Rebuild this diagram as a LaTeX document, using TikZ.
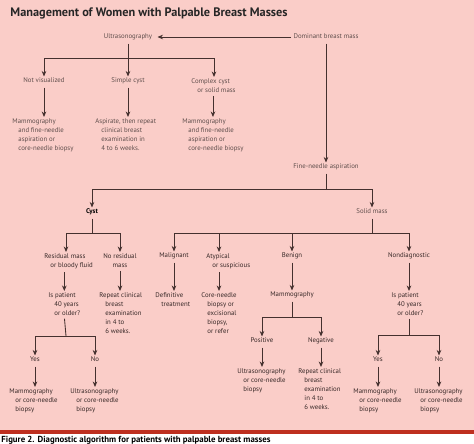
\documentclass[tikz,border=0pt]{standalone}
\usepackage{fontspec}
\setmainfont{PT Sans}
\usetikzlibrary{arrows.meta}
\definecolor{bgpink}{RGB}{250,205,200}
\definecolor{barred}{RGB}{190,48,32}
\definecolor{linec}{RGB}{68,48,46}
\definecolor{txtlight}{RGB}{95,78,76}
\definecolor{txtdark}{RGB}{55,40,39}
\newcommand{\ind}{\hspace*{6pt}}

\begin{document}
\begin{tikzpicture}[x=1pt,y=-1pt,>={Stealth[length=5.5pt,width=4.6pt]},line width=0.85pt,
    lbl/.style={inner sep=1pt,text height=4.8pt,text depth=1.4pt,font=\fontsize{6.8}{9}\selectfont,text=txtdark},
    blk/.style={inner sep=1pt,anchor=north west,align=left,font=\fontsize{6.8}{9}\selectfont,text=txtdark},
    arr/.style={->,draw=linec},
    drop/.style={->,draw=linec,shorten <=2pt},
    stem/.style={draw=linec,shorten <=2pt}]

    \fill[bgpink] (0,0) rectangle (474,430);
    \fill[barred] (0,430) rectangle (474,434);
    \useasboundingbox (0,0) rectangle (474,444);
    \clip (0,0) rectangle (474,444);

    \node[anchor=base west,inner sep=0,font=\bfseries\fontsize{12.3}{14}\selectfont,text=black!85] (title) at (10,16.5) {Management of Women with Palpable Breast Masses};
    \node[anchor=base west,inner sep=0,font=\bfseries\fontsize{8.8}{10}\selectfont,text=black] (caption) at (1,442.5) {Figure 2. Diagnostic algorithm for patients with palpable breast masses};

    % top row
    \node[lbl,text=txtlight] (us) at (128,37) {Ultrasonography};
    \node[lbl,text=txtlight] (dom) at (326,37) {Dominant breast mass};
    \node[lbl,text=txtlight] (notvis) at (44,81) {Not visualized};
    \node[lbl,text=txtlight] (simple) at (128,81) {Simple cyst};
    \node[blk,text=txtlight] (complex) at (190,77) {Complex cyst\\\ind or solid mass};
    \node[blk,text=txtlight] (mam1) at (11,117) {Mammography\\\ind and fine-needle\\\ind aspiration or\\\ind core-needle biopsy};
    \node[blk,text=txtlight] (asp) at (94,117) {Aspirate, then repeat\\\ind clinical breast\\\ind examination in\\\ind 4 to 6 weeks.};
    \node[blk,text=txtlight] (mam2) at (181,117) {Mammography\\\ind and fine-needle\\\ind aspiration or\\\ind core-needle biopsy};
    \node[lbl,text=txtlight] (fna) at (326,167) {Fine-needle aspiration};

    % cyst / solid mass
    \node[lbl,text=black,font=\bfseries\fontsize{6.8}{9}\selectfont] (cyst) at (92,212) {Cyst};
    \node[lbl,text=txtlight] (solid) at (372,212) {Solid mass};
    \node[blk] (resid) at (43,252) {Residual mass\\\ind or bloody fluid};
    \node[lbl,align=center,anchor=north,text height=,text depth=] (nores) at (120,252) {No residual\\mass};
    \node[lbl] (malig) at (174,256) {Malignant};
    \node[blk] (atyp) at (205,252) {Atypical\\\ind or suspicious};
    \node[lbl] (benign) at (292,256) {Benign};
    \node[lbl] (nondiag) at (409,256) {Nondiagnostic};

    \node[blk] (ispat1) at (47,291) {Is patient\\\ind 40 years\\\ind or older?};
    \node[blk] (rep1) at (98,291) {Repeat clinical\\\ind breast\\\ind examination\\\ind in 4 to\\\ind 6 weeks.};
    \node[blk] (defin) at (154,291) {Definitive\\\ind treatment};
    \node[blk] (core) at (200,291) {Core-needle\\\ind biopsy or\\\ind excisional\\\ind biopsy,\\\ind or refer};
    \node[lbl] (mammo) at (292,295) {Mammography};
    \node[blk] (ispat2) at (390,291) {Is patient\\\ind 40 years\\\ind or older?};

    % bottom rows
    \node[lbl] (yes1) at (35,360) {Yes};
    \node[lbl] (no1) at (95,360) {No};
    \node[lbl] (pos) at (262,341) {Positive};
    \node[lbl] (neg) at (321,341) {Negative};
    \node[lbl] (yes2) at (378,360) {Yes};
    \node[lbl] (no2) at (439,360) {No};
    \node[blk] (us1) at (236,367) {Ultrasonography\\\ind or core-needle\\\ind biopsy};
    \node[blk] (rep2) at (297,367) {Repeat clinical\\\ind breast\\\ind examination\\\ind in 4 to\\\ind 6 weeks.};
    \node[blk] (mc1) at (8,387) {Mammography\\\ind or core-needle\\\ind biopsy};
    \node[blk] (uc1) at (69,387) {Ultrasonography\\\ind or core-needle\\\ind biopsy};
    \node[blk] (mc2) at (352,387) {Mammography\\\ind or core-needle\\\ind biopsy};
    \node[blk] (uc2) at (413,387) {Ultrasonography\\\ind or core-needle\\\ind biopsy};

    % branch points
    \coordinate (usb) at (128,58);
    \coordinate (fnab) at (326,189);
    \coordinate (cystb) at (92,233);
    \coordinate (solidb) at (372,233);
    \coordinate (isb1) at (66,336);
    \coordinate (mamb) at (292,317);
    \coordinate (isb2) at (409,335);

    \draw[arr,shorten <=1pt,shorten >=4pt] (dom) -- (us);
    \draw[stem] (us.south) -- (usb);
    \draw[arr] (usb) -| (notvis.north);
    \draw[arr] (usb) -- (simple.north);
    \draw[arr] (usb) -| ([xshift=24pt]complex.north west);
    \draw[drop] (notvis.south) -- (notvis.south |- mam1.north);
    \draw[drop] (simple.south) -- (simple.south |- asp.north);
    \draw[drop] (mam2.north |- complex.south) -- (mam2.north);
    \draw[drop] (dom.south) -- (fna.north);

    \draw[stem] (fna.south) -- (fnab);
    \draw[arr] (fnab) -| (cyst.north);
    \draw[arr] (fnab) -| (solid.north);

    \draw[stem] (cyst.south) -- (cystb);
    \draw[arr] (cystb) -| ([xshift=23pt]resid.north west);
    \draw[arr] (cystb) -| (nores.north);
    \draw[drop] (ispat1.north |- resid.south) -- (ispat1.north);
    \draw[drop] (nores.south) -- (nores.south |- rep1.north);
    \draw[stem] (ispat1.south) -- (isb1);
    \draw[arr] (isb1) -| (yes1.north);
    \draw[arr] (isb1) -| (no1.north);
    \draw[drop] (yes1.south) -- (yes1.south |- mc1.north);
    \draw[drop] (no1.south) -- (no1.south |- uc1.north);

    \draw[stem] (solid.south) -- (solidb);
    \draw[arr] (solidb) -| (malig.north);
    \draw[arr] (solidb) -| ([xshift=14pt]atyp.north west);
    \draw[arr] (solidb) -| (benign.north);
    \draw[arr] (solidb) -| (nondiag.north);
    \draw[drop] (malig.south) -- (malig.south |- defin.north);
    \draw[drop] (core.north |- atyp.south) -- (core.north);
    \draw[drop] (benign.south) -- (mammo.north);
    \draw[drop] (nondiag.south) -- (nondiag.south |- ispat2.north);

    \draw[stem] (mammo.south) -- (mamb);
    \draw[arr] (mamb) -| (pos.north);
    \draw[arr] (mamb) -| (neg.north);
    \draw[drop] (pos.south) -- (pos.south |- us1.north);
    \draw[drop] (neg.south) -- (neg.south |- rep2.north);

    \draw[stem] (nondiag.south |- ispat2.south) -- (isb2);
    \draw[arr] (isb2) -| (yes2.north);
    \draw[arr] (isb2) -| (no2.north);
    \draw[drop] (yes2.south) -- (yes2.south |- mc2.north);
    \draw[drop] (no2.south) -- (no2.south |- uc2.north);
\end{tikzpicture}
\end{document}
